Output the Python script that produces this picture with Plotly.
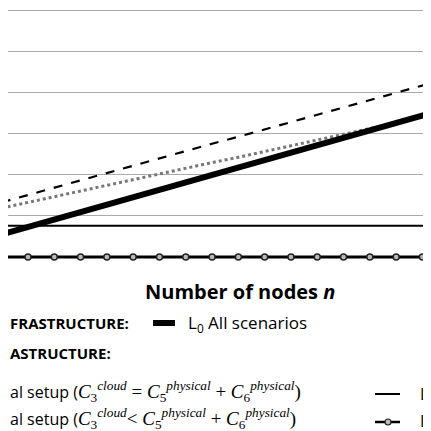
import plotly.graph_objects as go

# node index positions along the x axis (-1 and 16 sit just past the visible edges)
nodes = list(range(-1, 17))
l0_all = [0.55, 0.73, 0.91, 1.09, 1.27, 1.45, 1.64, 1.82, 2.00, 2.18, 2.36, 2.54, 2.72, 2.90, 3.08, 3.26, 3.45, 3.63]
l1_dashed = [1.33, 1.51, 1.69, 1.87, 2.04, 2.22, 2.40, 2.58, 2.76, 2.93, 3.11, 3.29, 3.47, 3.65, 3.82, 4.00, 4.18, 4.36]
l2_dotted = [1.19, 1.33, 1.47, 1.61, 1.74, 1.88, 2.02, 2.16, 2.30, 2.43, 2.57, 2.71, 2.85, 2.99, 3.12, 3.27, 3.45, 3.63]
l3_level = [0.76] * 18
l4_level = [0.0] * 18

W = H = 431


def px(x, y):
    return x / W, 1 - y / H


fig = go.Figure()
fig.add_trace(go.Scatter(x=nodes, y=l3_level, mode="lines",
                         line=dict(color="black", width=2)))
fig.add_trace(go.Scatter(x=nodes, y=l4_level, mode="lines+markers",
                         line=dict(color="black", width=3),
                         marker=dict(size=6, color="#bbb", line=dict(color="#222", width=1.5))))
fig.add_trace(go.Scatter(x=nodes, y=l1_dashed, mode="lines",
                         line=dict(color="black", width=2.2, dash="dash")))
fig.add_trace(go.Scatter(x=nodes, y=l2_dotted, mode="lines",
                         line=dict(color="#777", width=3, dash="dot")))
fig.add_trace(go.Scatter(x=nodes, y=l0_all, mode="lines",
                         line=dict(color="black", width=6)))

fig.update_layout(
    width=W, height=H, margin=dict(l=0, r=0, t=0, b=0),
    plot_bgcolor="white", paper_bgcolor="white", showlegend=False,
    font=dict(family="Open Sans", color="black"),
    xaxis=dict(range=[-0.76, 15.63], showgrid=False, showticklabels=False, zeroline=False),
    yaxis=dict(domain=[1 - 262 / H, 1], range=[-0.32, 6.07], dtick=1, showticklabels=False,
               gridcolor="#aaa", gridwidth=1, zeroline=False),
)

math = "font-family:'Liberation Serif';font-size:19px"


def note(x, y, text, size=17, anchor="left"):
    ax, ay = px(x, y)
    fig.add_annotation(x=ax, y=ay, xref="paper", yref="paper", text=text, showarrow=False,
                       xanchor=anchor, yanchor="middle", font=dict(size=size))


note(232, 283, "<b>Number of nodes <i>n</i></b>", size=20, anchor="center")
note(0, 315, "<b>FRASTRUCTURE:</b>", size=15)
note(178, 315, "L<sub>0</sub> All scenarios", size=17)
note(0, 345, "<b>ASTRUCTURE:</b>", size=15)
note(0, 383, "al setup (<span style=\"" + math + "\"><i>C</i><sub>3</sub><sup><i>cloud</i></sup> = "
     "<i>C</i><sub>5</sub><sup><i>physical</i></sup> + <i>C</i><sub>6</sub><sup><i>physical</i></sup>)</span>",
     size=16)
note(0, 410, "al setup (<span style=\"" + math + "\"><i>C</i><sub>3</sub><sup><i>cloud</i></sup>&lt; "
     "<i>C</i><sub>5</sub><sup><i>physical</i></sup> + <i>C</i><sub>6</sub><sup><i>physical</i></sup>)</span>",
     size=16)
note(429, 386, "L<sub>3</sub>", size=16, anchor="right")
note(429, 413, "L<sub>4</sub>", size=16, anchor="right")

# legend symbols
x0, y0 = px(145, 315)
x1, _ = px(167, 315)
fig.add_shape(type="line", xref="paper", yref="paper", x0=x0, x1=x1, y0=y0, y1=y0,
              line=dict(color="black", width=6))
x0, y0 = px(367, 386)
x1, _ = px(392, 386)
fig.add_shape(type="line", xref="paper", yref="paper", x0=x0, x1=x1, y0=y0, y1=y0,
              line=dict(color="black", width=2))
x0, y0 = px(367, 414)
x1, _ = px(392, 414)
fig.add_shape(type="line", xref="paper", yref="paper", x0=x0, x1=x1, y0=y0, y1=y0,
              line=dict(color="black", width=2.5))
cx0, cy0 = px(377, 411)
cx1, cy1 = px(383, 417)
fig.add_shape(type="circle", xref="paper", yref="paper", x0=cx0, x1=cx1, y0=cy1, y1=cy0,
              fillcolor="#bbb", line=dict(color="#222", width=1.2))

fig.write_html("out.html")
